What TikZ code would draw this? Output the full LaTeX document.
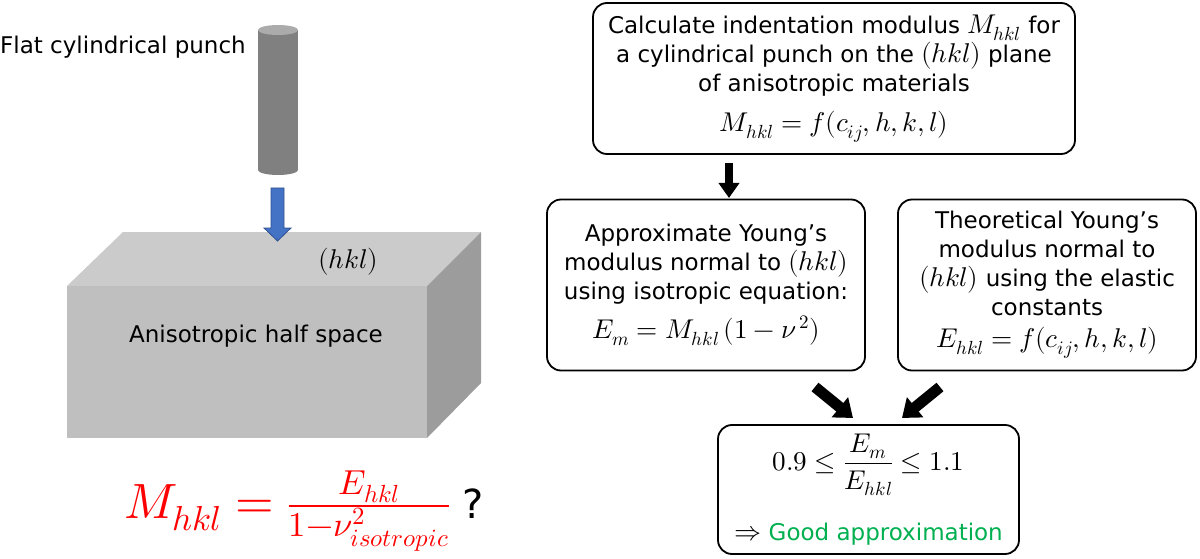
\documentclass[tikz,border=0pt]{standalone}
\usepackage{amsmath}
\usepackage{unicode-math}
\setmainfont{DejaVu Sans}
\setmathfont{Latin Modern Math}[Scale=1.18]
\usetikzlibrary{arrows.meta}
\definecolor{topface}{HTML}{CBCBCB}
\definecolor{frontface}{HTML}{BFBFBF}
\definecolor{sideface}{HTML}{9C9C9C}
\definecolor{cylbody}{HTML}{808080}
\definecolor{cyltop}{HTML}{ABABAB}
\definecolor{pushblue}{HTML}{4472C4}
\definecolor{pushedge}{HTML}{2F528F}
\definecolor{goodgreen}{HTML}{00B050}
\begin{document}
\begin{tikzpicture}[x=1pt,y=-1pt,
  flowbox/.style={draw=black, line width=1.8pt, rounded corners=14pt, align=center,
    inner sep=0pt, font=\fontsize{23}{29}\selectfont},
  plaintext/.style={inner sep=0pt, font=\fontsize{23}{29}\selectfont},
  downarrow/.style={line width=8pt, -{Triangle[width=20pt,length=15pt]}},
  diagarrow/.style={line width=11pt, -{Triangle[width=25pt,length=17pt]}},
]
\useasboundingbox (0,0) rectangle (1200,559);

% ---------- left: punch and half space ----------
\node[plaintext, anchor=base west] (punchlabel) at (0,54) {Flat cylindrical punch};

% cylinder
\fill[cylbody] (258,30) rectangle (298,170);
\fill[cylbody] (278,170) ellipse (20pt and 5pt);
\fill[cyltop] (278,30) ellipse (20pt and 5pt);

% block
\fill[topface] (123,232) -- (481,232) -- (427,286) -- (67,286) -- cycle;
\fill[frontface] (67,286) rectangle (427,438);
\fill[sideface] (427,286) -- (481,232) -- (481,383) -- (427,438) -- cycle;

% blue push arrow
\filldraw[fill=pushblue, draw=pushedge, line width=0.8pt]
  (271,188) -- (284,188) -- (284,228) -- (291,228) -- (277.5,241) -- (264,228) -- (271,228) -- cycle;

\node[inner sep=0pt, font=\fontsize{23}{30}\selectfont] (hkllabel) at (348,262) {$(hkl)$};
\node[plaintext] (halfspace) at (256,336) {Anisotropic half space};

\node[inner sep=0pt, anchor=base west, text=red, font=\fontsize{42}{50}\selectfont] (redformula) at (124,518)
  {$M_{hkl}=\frac{E_{hkl}}{1-\nu^2_{isotropic}}$};
\node[inner sep=0pt, anchor=base west, font=\fontsize{40}{48}\selectfont] (qmark) at (462,518) {?};

% ---------- right: flow chart ----------
\node[flowbox, minimum width=482pt, minimum height=151pt] (calc) at (834,78.5)
  {Calculate indentation modulus $M_{hkl}$ for\\
   a cylindrical punch on the $(hkl)$ plane\\
   of anisotropic materials\\[11pt]
   $M_{hkl}=f(c_{ij},h,k,l)$};

\node[flowbox, minimum width=318pt, minimum height=171pt] (approx) at (706,285)
  {Approximate Young’s\\
   modulus normal to $(hkl)$\\
   using isotropic equation:\\[10pt]
   $E_m = M_{hkl}\,(1-\nu^{\,2})$};

\node[flowbox, minimum width=298pt, minimum height=171pt] (theory) at (1047,285)
  {Theoretical Young’s\\
   modulus normal to\\
   $(hkl)$ using the elastic\\
   constants\\[3pt]
   $E_{hkl}=f(c_{ij},h,k,l)$};

\node[flowbox, minimum width=301pt, minimum height=129pt] (check) at (868.5,489.5)
  {$0.9\leq\dfrac{E_m}{E_{hkl}}\leq 1.1$\\[26pt]
   $\Rightarrow$ \textcolor{goodgreen}{Good approximation}};

% arrows
\coordinate (d1s) at (729,163);
\coordinate (d1e) at (729,198);
\draw[downarrow] (d1s) -- (d1e);

\coordinate (l1s) at (815,387);
\coordinate (l1e) at (853,418);
\draw[diagarrow] (l1s) -- (l1e);

\coordinate (r1s) at (940,387);
\coordinate (r1e) at (902,418);
\draw[diagarrow] (r1s) -- (r1e);
\end{tikzpicture}
\end{document}
